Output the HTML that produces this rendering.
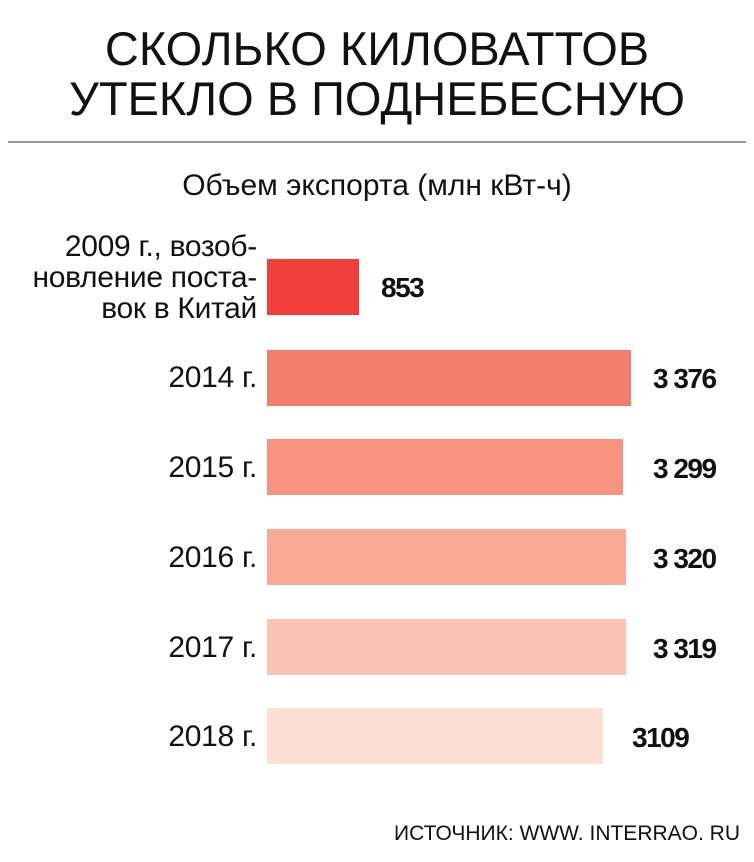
<!DOCTYPE html>
<html><head><meta charset="utf-8"><style>
body{margin:0;width:754px;height:862px;background:#fff;font-family:"Liberation Sans",sans-serif;color:#111;position:relative;overflow:hidden}
.t{position:absolute;left:0;width:754px;text-align:center;font-size:47px;letter-spacing:0px;line-height:50px}
.rule{position:absolute;left:8px;width:738px;top:141px;height:2px;background:#999}
.sub{position:absolute;left:0;width:754px;text-align:center;top:169px;font-size:30px;letter-spacing:0px}
.bar{position:absolute;left:267px;height:56px}
.lab{position:absolute;right:497px;font-size:30px;text-align:right;line-height:31px;letter-spacing:-0.3px;white-space:nowrap}
.val{position:absolute;font-size:28px;font-weight:bold;letter-spacing:-1.5px}
.src{position:absolute;right:14px;top:822px;font-size:21px;letter-spacing:0px}
</style></head><body>
<div class="t" style="top:24px">СКОЛЬКО КИЛОВАТТОВ</div>
<div class="t" style="top:74px">УТЕКЛО В ПОДНЕБЕСНУЮ</div>
<div class="rule"></div>
<div class="sub">Объем экспорта (млн кВт-ч)</div>

<div class="bar" style="top:259px;width:92px;background:#f03e3a"></div>
<div class="lab" style="top:231px">2009 г., возоб-<br>новление поста-<br>вок в Китай</div>
<div class="val" style="left:381px;top:272px">853</div>

<div class="bar" style="top:350px;width:364px;background:#f47e6e"></div>
<div class="lab" style="top:362px">2014 г.</div>
<div class="val" style="left:653px;top:363px">3 376</div>

<div class="bar" style="top:439px;width:356px;background:#f7937f"></div>
<div class="lab" style="top:452px">2015 г.</div>
<div class="val" style="left:653px;top:453px">3 299</div>

<div class="bar" style="top:529px;width:359px;background:#f9a995"></div>
<div class="lab" style="top:542px">2016 г.</div>
<div class="val" style="left:653px;top:543px">3 320</div>

<div class="bar" style="top:619px;width:359px;background:#fbc3b3"></div>
<div class="lab" style="top:632px">2017 г.</div>
<div class="val" style="left:653px;top:633px">3 319</div>

<div class="bar" style="top:708px;width:336px;background:#fde0d5"></div>
<div class="lab" style="top:721px">2018 г.</div>
<div class="val" style="left:632px;top:722px">3109</div>

<div class="src">ИСТОЧНИК: WWW. INTERRAO. RU</div>
</body></html>
